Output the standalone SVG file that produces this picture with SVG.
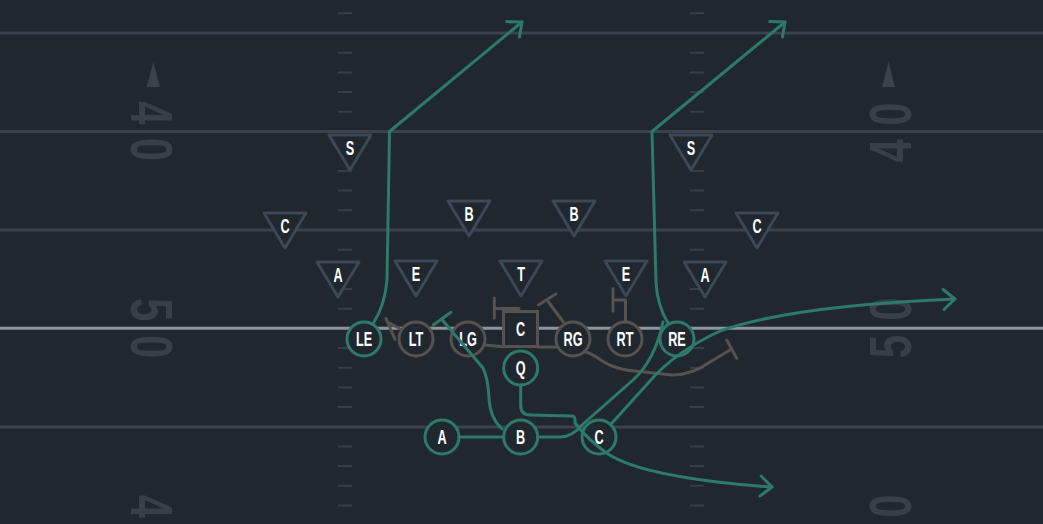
<svg xmlns="http://www.w3.org/2000/svg" width="1043" height="524" viewBox="0 0 1043 524">
<defs>
<style>
.yl{stroke:#3a434d;stroke-width:3}
.los{stroke:#8b96a0;stroke-width:3}
.hash{stroke:#363f48;stroke-width:2}
.num{font-family:"Liberation Sans",Arial,sans-serif;font-weight:bold;font-size:60px;fill:#383f49;text-anchor:middle}
.dir{fill:#3a434d}
.tri{fill:#20272f;stroke:#3c4855;stroke-width:3;stroke-linejoin:round}
.off{fill:#20272f;stroke:#2d7a6b;stroke-width:3}
.ol{fill:#20272f;stroke:#55524f;stroke-width:3}
.lbl{font-family:"Liberation Sans",Arial,sans-serif;font-weight:bold;font-size:19.5px;fill:#ffffff;text-anchor:middle}
.rt{fill:none;stroke:#2d7a6b;stroke-width:3;stroke-linejoin:round;stroke-linecap:round}
.gb{fill:none;stroke:#55524f;stroke-width:3;stroke-linejoin:round;stroke-linecap:round}
</style>
<marker id="arr" markerUnits="userSpaceOnUse" markerWidth="30" markerHeight="30" viewBox="-15 -15 30 30" refX="0" refY="0" orient="auto" overflow="visible">
<path d="M-11.5,-10 L0,0 L-11.5,10" fill="none" stroke="#2d7a6b" stroke-width="3" stroke-linecap="round" stroke-linejoin="round"/>
</marker>
<path id="tri" d="M-21,0 L21,0 L0,35 Z"/>
</defs>
<rect x="0" y="0" width="1043" height="524" fill="#20272f"/>
<g id="field">
<line class="yl" x1="0" y1="33" x2="1043" y2="33"/>
<line class="yl" x1="0" y1="131.5" x2="1043" y2="131.5"/>
<line class="yl" x1="0" y1="230" x2="1043" y2="230"/>
<line class="yl" x1="0" y1="427" x2="1043" y2="427"/>
<line class="los" x1="0" y1="328.3" x2="1043" y2="328.3"/>
<path class="hash" d="M338,13.3h14M338,52.7h14M338,72.4h14M338,92.1h14M338,111.8h14M338,151.2h14M338,170.9h14M338,190.6h14M338,210.3h14M338,249.7h14M338,269.4h14M338,289.1h14M338,308.8h14M338,348h14M338,367.7h14M338,387.4h14M338,407.1h14M338,446.4h14M338,466.1h14M338,485.8h14M338,505.5h14"/>
<path class="hash" d="M690,13.3h14M690,52.7h14M690,72.4h14M690,92.1h14M690,111.8h14M690,151.2h14M690,170.9h14M690,190.6h14M690,210.3h14M690,249.7h14M690,269.4h14M690,289.1h14M690,308.8h14M690,348h14M690,367.7h14M690,387.4h14M690,407.1h14M690,446.4h14M690,466.1h14M690,485.8h14M690,505.5h14"/>
<path class="dir" d="M153.3,62 L160,87 L146.6,87 Z"/>
<path class="dir" d="M888.5,62 L895,87 L882,87 Z"/>
<text class="num" transform="translate(152.5,113) rotate(90) scale(0.7,1)" y="21.5">4</text>
<text class="num" transform="translate(152.5,149.5) rotate(90) scale(0.7,1)" y="21.5">0</text>
<text class="num" transform="translate(152.5,309.7) rotate(90) scale(0.7,1)" y="21.5">5</text>
<text class="num" transform="translate(152.5,346.7) rotate(90) scale(0.7,1)" y="21.5">0</text>
<text class="num" transform="translate(152.5,506.5) rotate(90) scale(0.7,1)" y="21.5">4</text>
<text class="num" transform="translate(889.3,114) rotate(-90) scale(0.7,1)" y="21.5">0</text>
<text class="num" transform="translate(889.3,150.5) rotate(-90) scale(0.7,1)" y="21.5">4</text>
<text class="num" transform="translate(889.3,309) rotate(-90) scale(0.7,1)" y="21.5">0</text>
<text class="num" transform="translate(889.3,346.7) rotate(-90) scale(0.7,1)" y="21.5">5</text>
<text class="num" transform="translate(889.3,506) rotate(-90) scale(0.7,1)" y="21.5">0</text>
</g>
<g id="defense">
<g id="d-s-left"><use href="#tri" class="tri" x="350" y="135"/><text class="lbl" transform="translate(350,155) scale(0.65,1)">S</text></g>
<g id="d-s-right"><use href="#tri" class="tri" x="691" y="135"/><text class="lbl" transform="translate(691,155) scale(0.65,1)">S</text></g>
<g id="d-c-left"><use href="#tri" class="tri" x="285" y="213"/><text class="lbl" transform="translate(285,233) scale(0.65,1)">C</text></g>
<g id="d-c-right"><use href="#tri" class="tri" x="757" y="213"/><text class="lbl" transform="translate(757,233) scale(0.65,1)">C</text></g>
<g id="d-b-left"><use href="#tri" class="tri" x="469" y="201"/><text class="lbl" transform="translate(469,221) scale(0.65,1)">B</text></g>
<g id="d-b-right"><use href="#tri" class="tri" x="574" y="201"/><text class="lbl" transform="translate(574,221) scale(0.65,1)">B</text></g>
<g id="d-a-left"><use href="#tri" class="tri" x="338" y="262"/><text class="lbl" transform="translate(338,282) scale(0.65,1)">A</text></g>
<g id="d-a-right"><use href="#tri" class="tri" x="705" y="262"/><text class="lbl" transform="translate(705,282) scale(0.65,1)">A</text></g>
<g id="d-e-left"><use href="#tri" class="tri" x="416" y="261"/><text class="lbl" transform="translate(416,281) scale(0.65,1)">E</text></g>
<g id="d-e-right"><use href="#tri" class="tri" x="626" y="261"/><text class="lbl" transform="translate(626,281) scale(0.65,1)">E</text></g>
<g id="d-t"><use href="#tri" class="tri" x="521" y="261"/><text class="lbl" transform="translate(521,281) scale(0.65,1)">T</text></g>
</g>
<g id="offense">
<g id="o-le"><circle class="off" cx="364" cy="339" r="17"/><text class="lbl" transform="translate(364,346) scale(0.65,1)">LE</text></g>
<g id="o-lt"><circle class="ol" cx="416" cy="339" r="17"/><text class="lbl" transform="translate(416,346) scale(0.65,1)">LT</text></g>
<g id="o-lg"><circle class="ol" cx="468" cy="339" r="17"/><text class="lbl" transform="translate(468,346) scale(0.65,1)">LG</text></g>
<g id="o-c"><rect class="ol" x="503.5" y="311.5" width="34" height="35"/><text class="lbl" transform="translate(520.5,336) scale(0.65,1)">C</text></g>
<g id="o-rg"><circle class="ol" cx="573" cy="339" r="17"/><text class="lbl" transform="translate(573,346) scale(0.65,1)">RG</text></g>
<g id="o-rt"><circle class="ol" cx="625" cy="339" r="17"/><text class="lbl" transform="translate(625,346) scale(0.65,1)">RT</text></g>
<g id="o-re"><circle class="off" cx="677" cy="339" r="17"/><text class="lbl" transform="translate(677,346) scale(0.65,1)">RE</text></g>
<g id="o-q"><circle class="off" cx="520.7" cy="368" r="17"/><text class="lbl" transform="translate(520.7,375) scale(0.65,1)">Q</text></g>
<g id="o-a"><circle class="off" cx="442" cy="437" r="17"/><text class="lbl" transform="translate(442,444) scale(0.65,1)">A</text></g>
<g id="o-b"><circle class="off" cx="520.7" cy="437" r="17"/><text class="lbl" transform="translate(520.7,444) scale(0.65,1)">B</text></g>
<g id="o-cb"><circle class="off" cx="599" cy="437" r="17"/><text class="lbl" transform="translate(599,444) scale(0.65,1)">C</text></g>
</g>
<g id="connectors">
<path class="gb" d="M399.5,328.5 L390,323.3 M386,318.5 L395,339.3"/>
<path class="gb" d="M494.3,298 L494.3,318 M494.3,308.5 L519,308.5"/>
<path class="gb" d="M563.3,322 L547,300 M538.3,305 L556,294"/>
<path class="gb" d="M625.5,322 L625.5,300 L613,300 M613,288.5 L613,311"/>
<path class="gb" d="M485,345 L503,346.7 M538,347 L556,347 M585,351.7 C597,355 601,362 612,366 Q622,370 635,371 L672,375 Q692,375 710,362 L731.7,349 M726.7,340 L736.7,358.3"/>
<path class="rt" d="M373.3,323.3 Q385,305 387,280 L389.5,131.5 L522,22" marker-end="url(#arr)"/>
<path class="rt" d="M668,323 Q657,305 656,282 L652,131.5 L785,22" marker-end="url(#arr)"/>
<path class="rt" d="M502,429 Q490,418 489,398 Q488,378 483,368 L441.7,319.3 M433.3,325 L451,312.3"/>
<path class="rt" d="M459,437 L503.5,437"/>
<path class="rt" d="M538,437 L560,437 Q572,437 582,425 L633,380 Q655,360 663,322"/>
<path class="rt" d="M612,423 L650,381 Q675,352 720,331 Q790,306 955,299" marker-end="url(#arr)"/>
<path class="rt" d="M520.7,385 L520.7,405 Q520.7,415 530,415 L572,416 Q575,416.5 575,420 L575,423 Q588,440 608,454 Q645,478 772,487" marker-end="url(#arr)"/>
</g>
</svg>
